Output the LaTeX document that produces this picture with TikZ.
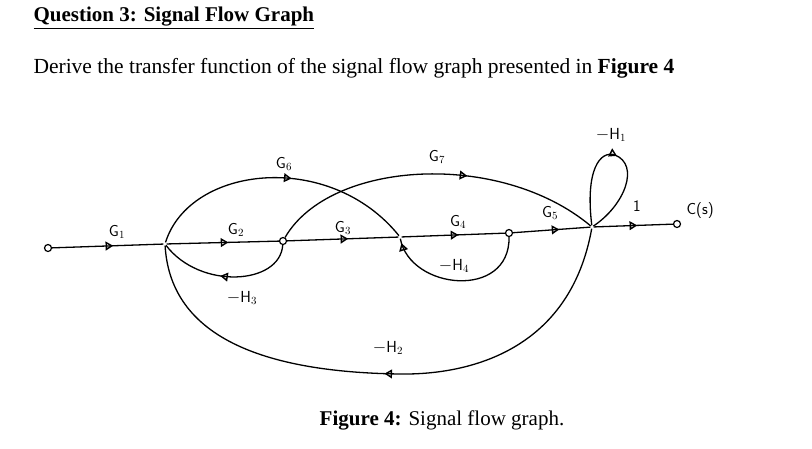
\documentclass[tikz,border=0pt]{standalone}
\usepackage{fontspec}
\setmainfont{Liberation Serif}
\usetikzlibrary{arrows.meta,decorations.markings}
\begin{document}
\begin{tikzpicture}[x=1pt,y=-1pt,
  br/.style={line width=1.3pt,postaction={decorate},decoration={markings,mark=at position #1 with {\arrow[scale=1.2]{Triangle[open,line width=1.2pt]}}}},
  br/.default=0.55,
  nd/.style={circle,draw,line width=1.2pt,inner sep=0pt,minimum size=7pt,fill=white},
  jn/.style={circle,inner sep=0pt,minimum size=3pt},
  lb/.style={font=\sffamily\fontsize{16}{18}\selectfont}]
\useasboundingbox (0,0) rectangle (812,448);
\node[anchor=west,font=\bfseries\fontsize{21}{24}\selectfont] (t) at (30,18) {\underline{Question 3: Signal Flow Graph}};
\node[anchor=west,font=\fontsize{21.5}{24}\selectfont] (s) at (30,68) {Derive the transfer function of the signal flow graph presented in \textbf{Figure 4}};
\node[font=\fontsize{21}{24}\selectfont] (c) at (442,420) {\textbf{Figure 4:} Signal flow graph.};
\node[nd] (n0) at (48,248) {};
\node[jn] (n1) at (165,244) {};
\node[nd] (n2) at (283,241) {};
\node[jn] (n3) at (400,237) {};
\node[nd] (n4) at (509,233) {};
\node[jn] (n5) at (592,227) {};
\node[nd] (n6) at (677,224) {};
\draw[br] (n0) -- (n1);
\draw[br] (n1) -- (n2);
\draw[br] (n2) -- (n3);
\draw[br] (n3) -- (n4);
\draw[br=0.6] (n4) -- (n5);
\draw[br] (n5) -- (n6);
\draw[br] (n2) .. controls (280,285) and (200,290) .. (n1);
\draw[br] (n1) .. controls (190,165) and (330,150) .. (n3);
\draw[br=0.6] (n2) .. controls (330,160) and (500,150) .. (n5);
\draw[br=0.97] (n4) .. controls (510,300) and (410,290) .. (n3);
\draw[br=0.5] (n5) .. controls (570,350) and (470,375) .. (400,374) .. controls (250,372) and (170,330) .. (n1);
\draw[br=0.5] (n5) .. controls (585,170) and (600,150) .. (615,155) .. controls (640,165) and (625,205) .. (n5);
\node[lb] (l1) at (117,232) {G$_1$};
\node[lb] (l2) at (236,230) {G$_2$};
\node[lb] (l3) at (343,228) {G$_3$};
\node[lb] (l4) at (458,222) {G$_4$};
\node[lb] (l5) at (550,213) {G$_5$};
\node[lb] (l6) at (284,164) {G$_6$};
\node[lb] (l7) at (437,157) {G$_7$};
\node[lb] (l8) at (637,206) {1};
\node[lb,anchor=west] (l9) at (683,211) {C(s)};
\node[lb] (h1) at (611,135) {$-$H$_1$};
\node[lb] (h2) at (388,348) {$-$H$_2$};
\node[lb] (h3) at (242,298) {$-$H$_3$};
\node[lb] (h4) at (454,266) {$-$H$_4$};
\end{tikzpicture}
\end{document}
